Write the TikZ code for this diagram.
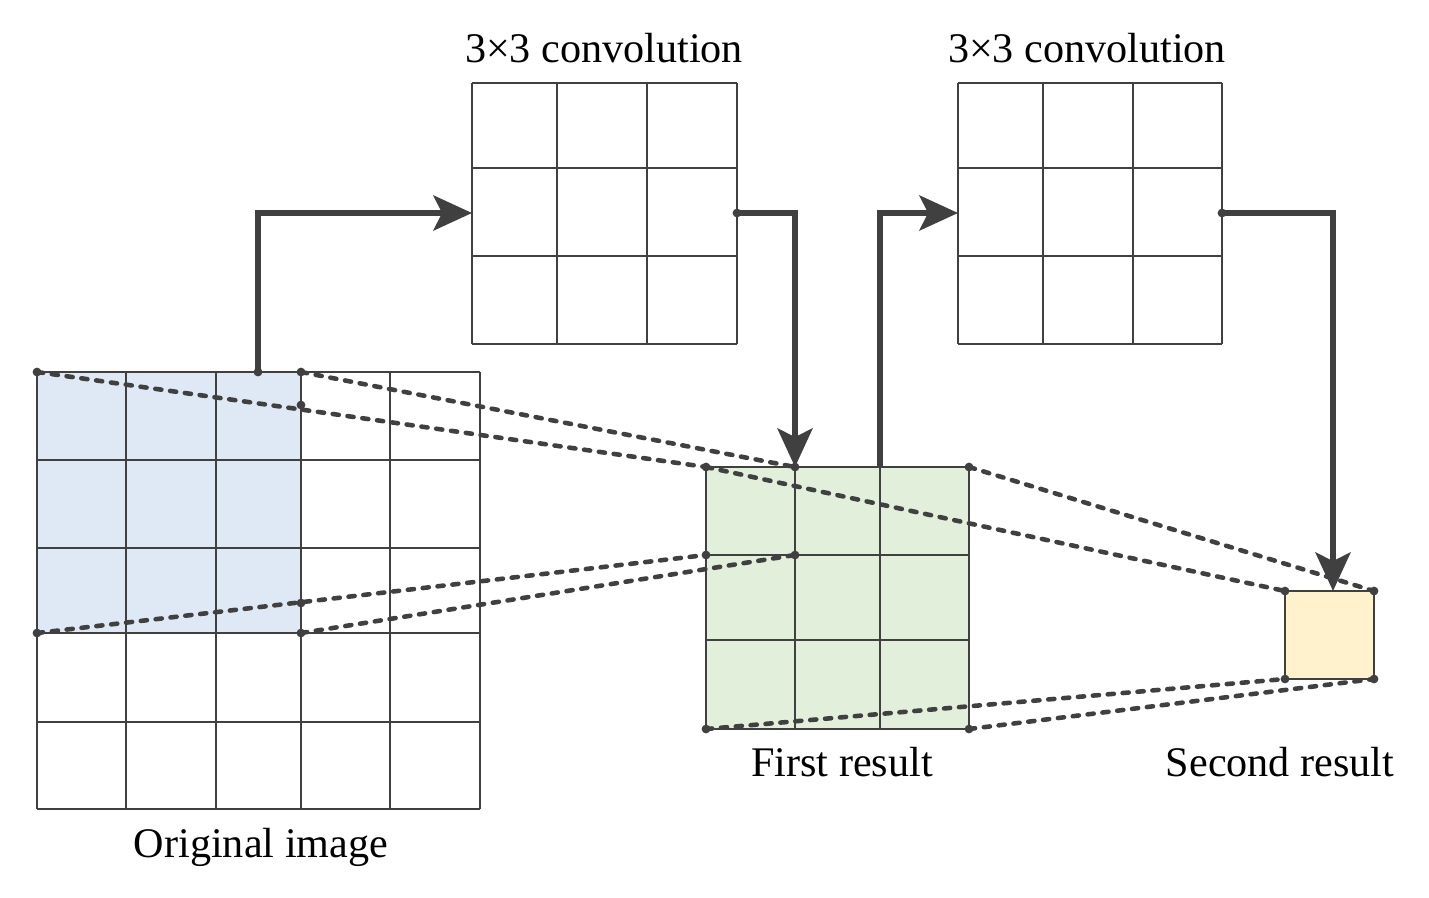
\documentclass[tikz,border=0pt]{standalone}
\usepackage{fontspec}
\setmainfont{Liberation Serif}
\usetikzlibrary{arrows.meta}
\definecolor{dk}{HTML}{404040}
\begin{document}
\begin{tikzpicture}[x=0.02cm,y=-0.02cm,
  grid/.style={draw=dk,line width=1.1pt},
  conn/.style={draw=dk,line width=3pt,-{Stealth[length=22pt,width=20pt,inset=5pt]}},
  proj/.style={draw=dk,line width=2.6pt,dash pattern=on 3.5pt off 5pt,line cap=round},
  dot/.style={circle,fill=dk,inner sep=0pt,minimum size=5pt},
  lab/.style={font=\fontsize{24}{28}\selectfont}]
\useasboundingbox (0,0) rectangle (1429,897);
% fills
\fill[fill={rgb,255:red,222;green,233;blue,245}] (37,372) rectangle (301,633);
\fill[fill={rgb,255:red,226;green,239;blue,218}] (706,467) rectangle (969,729);
\fill[fill={rgb,255:red,255;green,242;blue,204}] (1285,591) rectangle (1374,679);
% original grid
\foreach \x in {37,126,216,301,390,480} \draw[grid] (\x,372) -- (\x,809);
\foreach \y in {372,460,548,633,722,809} \draw[grid] (37,\y) -- (480,\y);
% conv1
\foreach \x in {472,557,647,737} \draw[grid] (\x,83) -- (\x,344);
\foreach \y in {83,168,256,344} \draw[grid] (472,\y) -- (737,\y);
% conv2
\foreach \x in {958,1043,1133,1222} \draw[grid] (\x,83) -- (\x,344);
\foreach \y in {83,168,256,344} \draw[grid] (958,\y) -- (1222,\y);
% first
\foreach \x in {706,795,880,969} \draw[grid] (\x,467) -- (\x,729);
\foreach \y in {467,555,640,729} \draw[grid] (706,\y) -- (969,\y);
% second
\draw[grid] (1285,591) rectangle (1374,679);
% points
\coordinate (o1) at (37,372); \coordinate (o2) at (301,372);
\coordinate (o3) at (37,633); \coordinate (o4) at (301,633);
\coordinate (f1) at (706,467); \coordinate (f2) at (795,467); \coordinate (f3) at (969,467);
\coordinate (f4) at (706,555); \coordinate (f5) at (795,555);
\coordinate (f6) at (706,729); \coordinate (f7) at (969,729);
\coordinate (s1) at (1285,591); \coordinate (s2) at (1374,591);
\coordinate (s3) at (1285,679); \coordinate (s4) at (1374,679);
\coordinate (a0) at (258,372); \coordinate (c1) at (472,213); \coordinate (c1r) at (737,213);
\coordinate (a1) at (880,467); \coordinate (c2) at (958,213); \coordinate (c2r) at (1222,213);
\coordinate (st) at (1333,591); \coordinate (o5) at (301,405); \coordinate (o6) at (301,603);
% projections
\draw[proj] (o1) -- (f1); \draw[proj] (o2) -- (f2);
\draw[proj] (o3) -- (f4); \draw[proj] (o4) -- (f5);
\draw[proj] (f1) -- (s1); \draw[proj] (f3) -- (s2);
\draw[proj] (f6) -- (s3); \draw[proj] (f7) -- (s4);
\foreach \p in {o1,o2,o3,o4,f1,f2,f3,f4,f5,f6,f7,s1,s2,s3,s4,a0,c1r,c2r,o5,o6} \node[dot] at (\p) {};
% arrows
\draw[conn] (a0) |- (c1);
\draw[conn] (c1r) -| (f2);
\draw[conn] (a1) |- (c2);
\draw[conn] (c2r) -| (st);
% labels
\node[lab] (t1) at (604,48) {3×3 convolution};
\node[lab] (t2) at (1087,48) {3×3 convolution};
\node[lab] (t3) at (842,762) {First result};
\node[lab] (t4) at (1280,762) {Second result};
\node[lab] (t5) at (261,847) {Original image};
\end{tikzpicture}
\end{document}
